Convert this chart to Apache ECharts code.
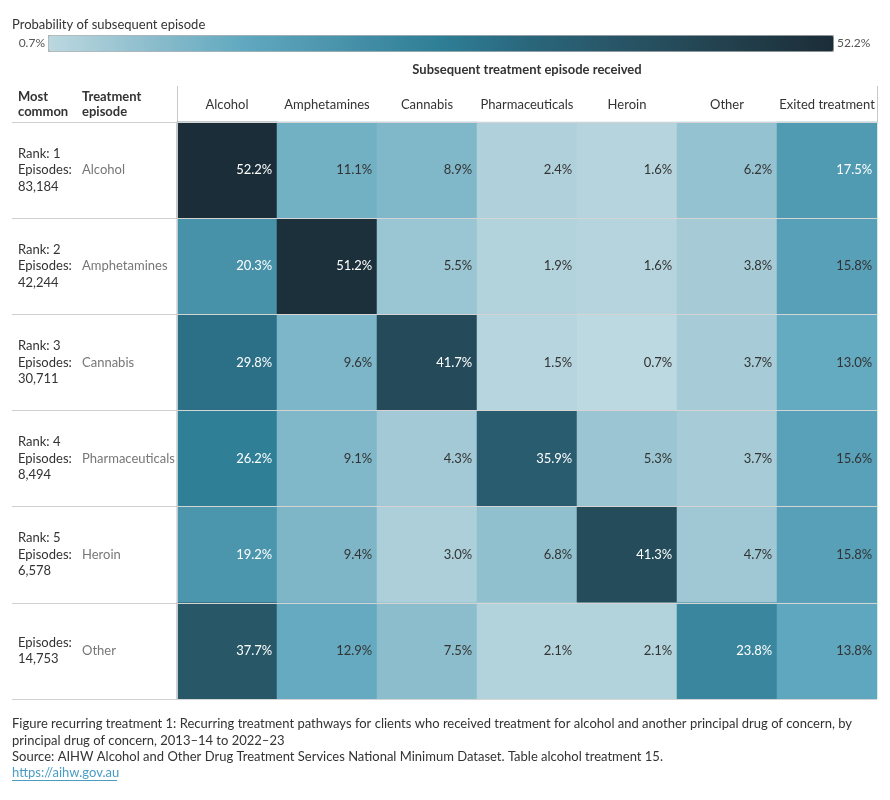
<!DOCTYPE html>
<html>
<head>
<meta charset="utf-8">
<script src="https://cdn.jsdelivr.net/npm/echarts@6/dist/echarts.min.js"></script>
<style>
html,body{margin:0;padding:0;background:#fff;}
#chart{width:890px;height:800px;}
</style>
</head>
<body>
<div id="chart"></div>
<script>
// ---- data ----
var subsequent = ['Alcohol', 'Amphetamines', 'Cannabis', 'Pharmaceuticals', 'Heroin', 'Other', 'Exited treatment'];
var primary = ['Alcohol', 'Amphetamines', 'Cannabis', 'Pharmaceuticals', 'Heroin', 'Other'];
var ranks = [1, 2, 3, 4, 5, null];
var episodes = [83184, 42244, 30711, 8494, 6578, 14753];
var alcoholRow = [52.2, 11.1, 8.9, 2.4, 1.6, 6.2, 17.5];
var amphetaminesRow = [20.3, 51.2, 5.5, 1.9, 1.6, 3.8, 15.8];
var cannabisRow = [29.8, 9.6, 41.7, 1.5, 0.7, 3.7, 13.0];
var pharmaceuticalsRow = [26.2, 9.1, 4.3, 35.9, 5.3, 3.7, 15.6];
var heroinRow = [19.2, 9.4, 3.0, 6.8, 41.3, 4.7, 15.8];
var otherRow = [37.7, 12.9, 7.5, 2.1, 2.1, 23.8, 13.8];
var scaleMin = 0.7;
var scaleMax = 52.2;

var rows = [alcoholRow, amphetaminesRow, cannabisRow, pharmaceuticalsRow, heroinRow, otherRow];
var FONT = 'Lato, "Open Sans", sans-serif';

var cells = [];
rows.forEach(function (r, yi) {
  r.forEach(function (v, xi) {
    cells.push({
      value: [xi, yi, v],
      label: { color: v >= 17 ? '#ffffff' : '#333333' }
    });
  });
});

var rowInfo = primary.map(function (p, i) {
  var ep = episodes[i].toLocaleString('en-US');
  return ranks[i] != null ? ('Rank: ' + ranks[i] + '\nEpisodes:\n' + ep) : ('Episodes:\n' + ep);
});

var chart = echarts.init(document.getElementById('chart'), null, { renderer: 'canvas' });

var option = {
  backgroundColor: '#ffffff',
  textStyle: { fontFamily: FONT },
  title: [
    { text: 'Probability of subsequent episode', left: 12, top: 18, padding: 0,
      textStyle: { fontSize: 13, fontWeight: 'normal', color: '#333', fontFamily: FONT } },
    { text: scaleMin.toFixed(1) + '%', right: 890 - 45, top: 37, padding: 0,
      textStyle: { fontSize: 12, fontWeight: 'normal', color: '#555', fontFamily: FONT } },
    { text: scaleMax.toFixed(1) + '%', left: 837, top: 37, padding: 0,
      textStyle: { fontSize: 12, fontWeight: 'normal', color: '#555', fontFamily: FONT } },
    { text: 'Most\ncommon', left: 18, top: 89, padding: 0,
      textStyle: { fontSize: 13, fontWeight: 'bold', color: '#333', lineHeight: 15, fontFamily: FONT } },
    { text: 'Treatment\nepisode', left: 82, top: 89, padding: 0,
      textStyle: { fontSize: 13, fontWeight: 'bold', color: '#333', lineHeight: 15, fontFamily: FONT } },
    { text: 'Figure recurring treatment 1: Recurring treatment pathways for clients who received treatment for alcohol and another principal drug of concern, by\nprincipal drug of concern, 2013\u201314 to 2022\u201323\nSource: AIHW Alcohol and Other Drug Treatment Services National Minimum Dataset. Table alcohol treatment 15.',
      left: 12, top: 715.5, padding: 0,
      textStyle: { fontSize: 13, fontWeight: 'normal', color: '#333', lineHeight: 16.7, fontFamily: FONT } },
    { text: 'https://aihw.gov.au', left: 12, top: 766, padding: 0, link: 'https://aihw.gov.au',
      textStyle: { fontSize: 13, fontWeight: 'normal', color: '#4a9cc4', fontFamily: FONT } }
  ],
  graphic: [
    { type: 'line', shape: { x1: 12, y1: 780.5, x2: 117, y2: 780.5 },
      style: { stroke: '#4a9cc4', lineWidth: 1 } }
  ],
  visualMap: {
    type: 'continuous',
    min: scaleMin,
    max: scaleMax,
    orient: 'horizontal',
    left: 48,
    top: 35,
    itemWidth: 16,
    itemHeight: 785,
    calculable: false,
    padding: 0,
    borderColor: '#a8a8a8',
    borderWidth: 1,
    inRange: {
      color: ['#bcd8e0', '#8ebecd', '#60a8bf', '#4892aa', '#2e7e96', '#2a6479', '#275262', '#223f4c', '#1b2d38']
    }
  },
  grid: { left: 177, right: 13, top: 122, bottom: 101, containLabel: false },
  xAxis: {
    type: 'category',
    position: 'top',
    data: subsequent,
    name: 'Subsequent treatment episode received',
    nameLocation: 'middle',
    nameGap: 46,
    nameTextStyle: { fontSize: 13, fontWeight: 'bold', color: '#333', fontFamily: FONT },
    axisLine: { show: true, lineStyle: { color: '#d0d0d0', width: 1 } },
    axisTick: { show: true, length: 36,
      interval: function (i) { return i === 0 || i === subsequent.length; },
      lineStyle: { color: '#c8c8c8' } },
    axisLabel: { interval: 0, fontSize: 13, color: '#333', margin: 11, fontFamily: FONT },
    splitLine: { show: false }
  },
  yAxis: [
    {
      type: 'category',
      inverse: true,
      data: rowInfo,
      z: 5,
      axisLine: { show: true, lineStyle: { color: '#c8c8c8', width: 1 } },
      axisTick: { show: true, length: 165, lineStyle: { color: '#d0d0d0' } },
      splitLine: { show: true, lineStyle: { color: '#d4d4d4', width: 1 } },
      axisLabel: { interval: 0, align: 'left', margin: 159, fontSize: 13, lineHeight: 16.5, color: '#333', fontFamily: FONT }
    },
    {
      type: 'category',
      inverse: true,
      position: 'left',
      offset: 0,
      data: primary,
      axisLine: { show: false },
      axisTick: { show: false },
      splitLine: { show: false },
      axisLabel: { interval: 0, align: 'left', margin: 95, fontSize: 13, color: '#777', fontFamily: FONT }
    }
  ],
  series: [{
    type: 'heatmap',
    xAxisIndex: 0,
    yAxisIndex: 0,
    data: cells,
    label: {
      show: true,
      position: 'insideRight',
      distance: 5,
      fontSize: 13,
      fontFamily: FONT,
      formatter: function (p) { return p.value[2].toFixed(1) + '%'; }
    },
    itemStyle: { borderWidth: 0 },
    emphasis: { disabled: true }
  }]
};

chart.setOption(option);
</script>
</body>
</html>
